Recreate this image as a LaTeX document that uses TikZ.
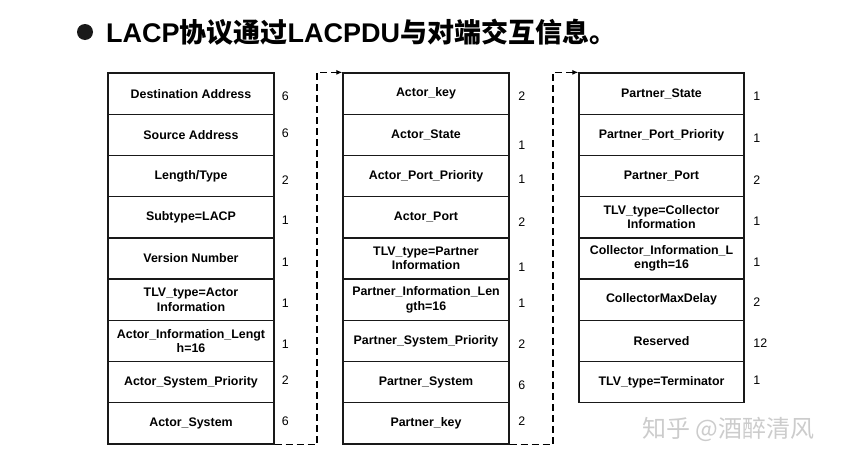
\documentclass[tikz,border=0pt]{standalone}
\usepackage{fontspec}
\setmainfont{Liberation Sans}
\newfontfamily\cjk{Noto Sans CJK SC}
\usetikzlibrary{arrows.meta,positioning,calc}

\tikzset{
  cell/.style={draw=black!90, line width=1.3pt, minimum width=166pt, minimum height=41.2pt,
    inner sep=1pt, align=center, font=\bfseries\fontsize{12.4}{14.5}\selectfont},
  num/.style={anchor=west, inner sep=0pt, font=\fontsize{12.4}{14}\selectfont},
  link/.style={line width=1.6pt, dash pattern=on 7pt off 4pt, -{Latex[length=6pt,width=5pt]}}
}

\begin{document}
\begin{tikzpicture}[x=1pt,y=-1pt]
    \useasboundingbox (0,0) rectangle (842,463);
    % title
    \node[circle, fill=black!90, minimum size=16pt, inner sep=0pt] (dot) at (85,32) {};
    \node[anchor=west, inner sep=0pt, font=\bfseries\fontsize{27}{29}\selectfont] (title) at (106,32)
        {LACP{\cjk\bfseries 协议通过}LACPDU{\cjk\bfseries 与对端交互信息。}};
    % first column
    \foreach \i/\txt/\n/\dy in {1/{Destination Address}/6/2.4, 2/{Source Address}/6/-1.8,
        3/{Length/Type}/2/4, 4/{Subtype=LACP}/1/2.7, 5/{Version Number}/1/3.5,
        6/{TLV\_type=Actor\\Information}/1/3.3, 7/{Actor\_Information\_Lengt\\h=16}/1/3.1,
        8/{Actor\_System\_Priority}/2/-2.2, 9/{Actor\_System}/6/-2.4} {
        \pgfmathsetmacro\yc{73+41.22*(\i-0.5)}
        \node[cell] (a\i) at (191,\yc) {\txt};
        \node[num] (na\i) at ($(a\i.east)+(7,\dy)$) {\n};
    }
    % second column
    \foreach \i/\txt/\n/\dy in {1/{Actor\_key}/2/2.4, 2/{Actor\_State}/1/10,
        3/{Actor\_Port\_Priority}/1/3, 4/{Actor\_Port}/2/4.7,
        5/{TLV\_type=Partner\\Information}/1/8.5, 6/{Partner\_Information\_Len\\gth=16}/1/3.3,
        7/{Partner\_System\_Priority}/2/3.1, 8/{Partner\_System}/6/2.8, 9/{Partner\_key}/2/-2.4} {
        \pgfmathsetmacro\yc{73+41.22*(\i-0.5)}
        \node[cell] (b\i) at (426,\yc) {\txt};
        \node[num] (nb\i) at ($(b\i.east)+(8.5,\dy)$) {\n};
    }
    % third column
    \foreach \i/\txt/\n/\dy in {1/{Partner\_State}/1/2.4, 2/{Partner\_Port\_Priority}/1/3.2,
        3/{Partner\_Port}/2/4, 4/{TLV\_type=Collector\\Information}/1/3.7,
        5/{Collector\_Information\_L\\ength=16}/1/3.5, 6/{CollectorMaxDelay}/2/2.3,
        7/{Reserved}/12/2.1, 8/{TLV\_type=Terminator}/1/-2.2} {
        \pgfmathsetmacro\yc{73+41.22*(\i-0.5)}
        \node[cell, minimum width=165pt] (c\i) at (661.5,\yc) {\txt};
        \node[num] (nc\i) at ($(c\i.east)+(8.5,\dy)$) {\n};
    }
    % dashed links between the columns
    \coordinate (j1) at (317,73);
    \coordinate (j2) at (553,73);
    \draw[link] (a9.south east) -- (a9.south east -| j1) -- (b1.north west -| j1) -- (b1.north west);
    \draw[link] (b9.south east) -- (b9.south east -| j2) -- (c1.north west -| j2) -- (c1.north west);
    % watermark
    \node[anchor=west, inner sep=0pt, text=black!20, font=\cjk\fontsize{24}{26}\selectfont] (mark) at (642,429) {知乎 @酒醉清风};
\end{tikzpicture}
\end{document}
